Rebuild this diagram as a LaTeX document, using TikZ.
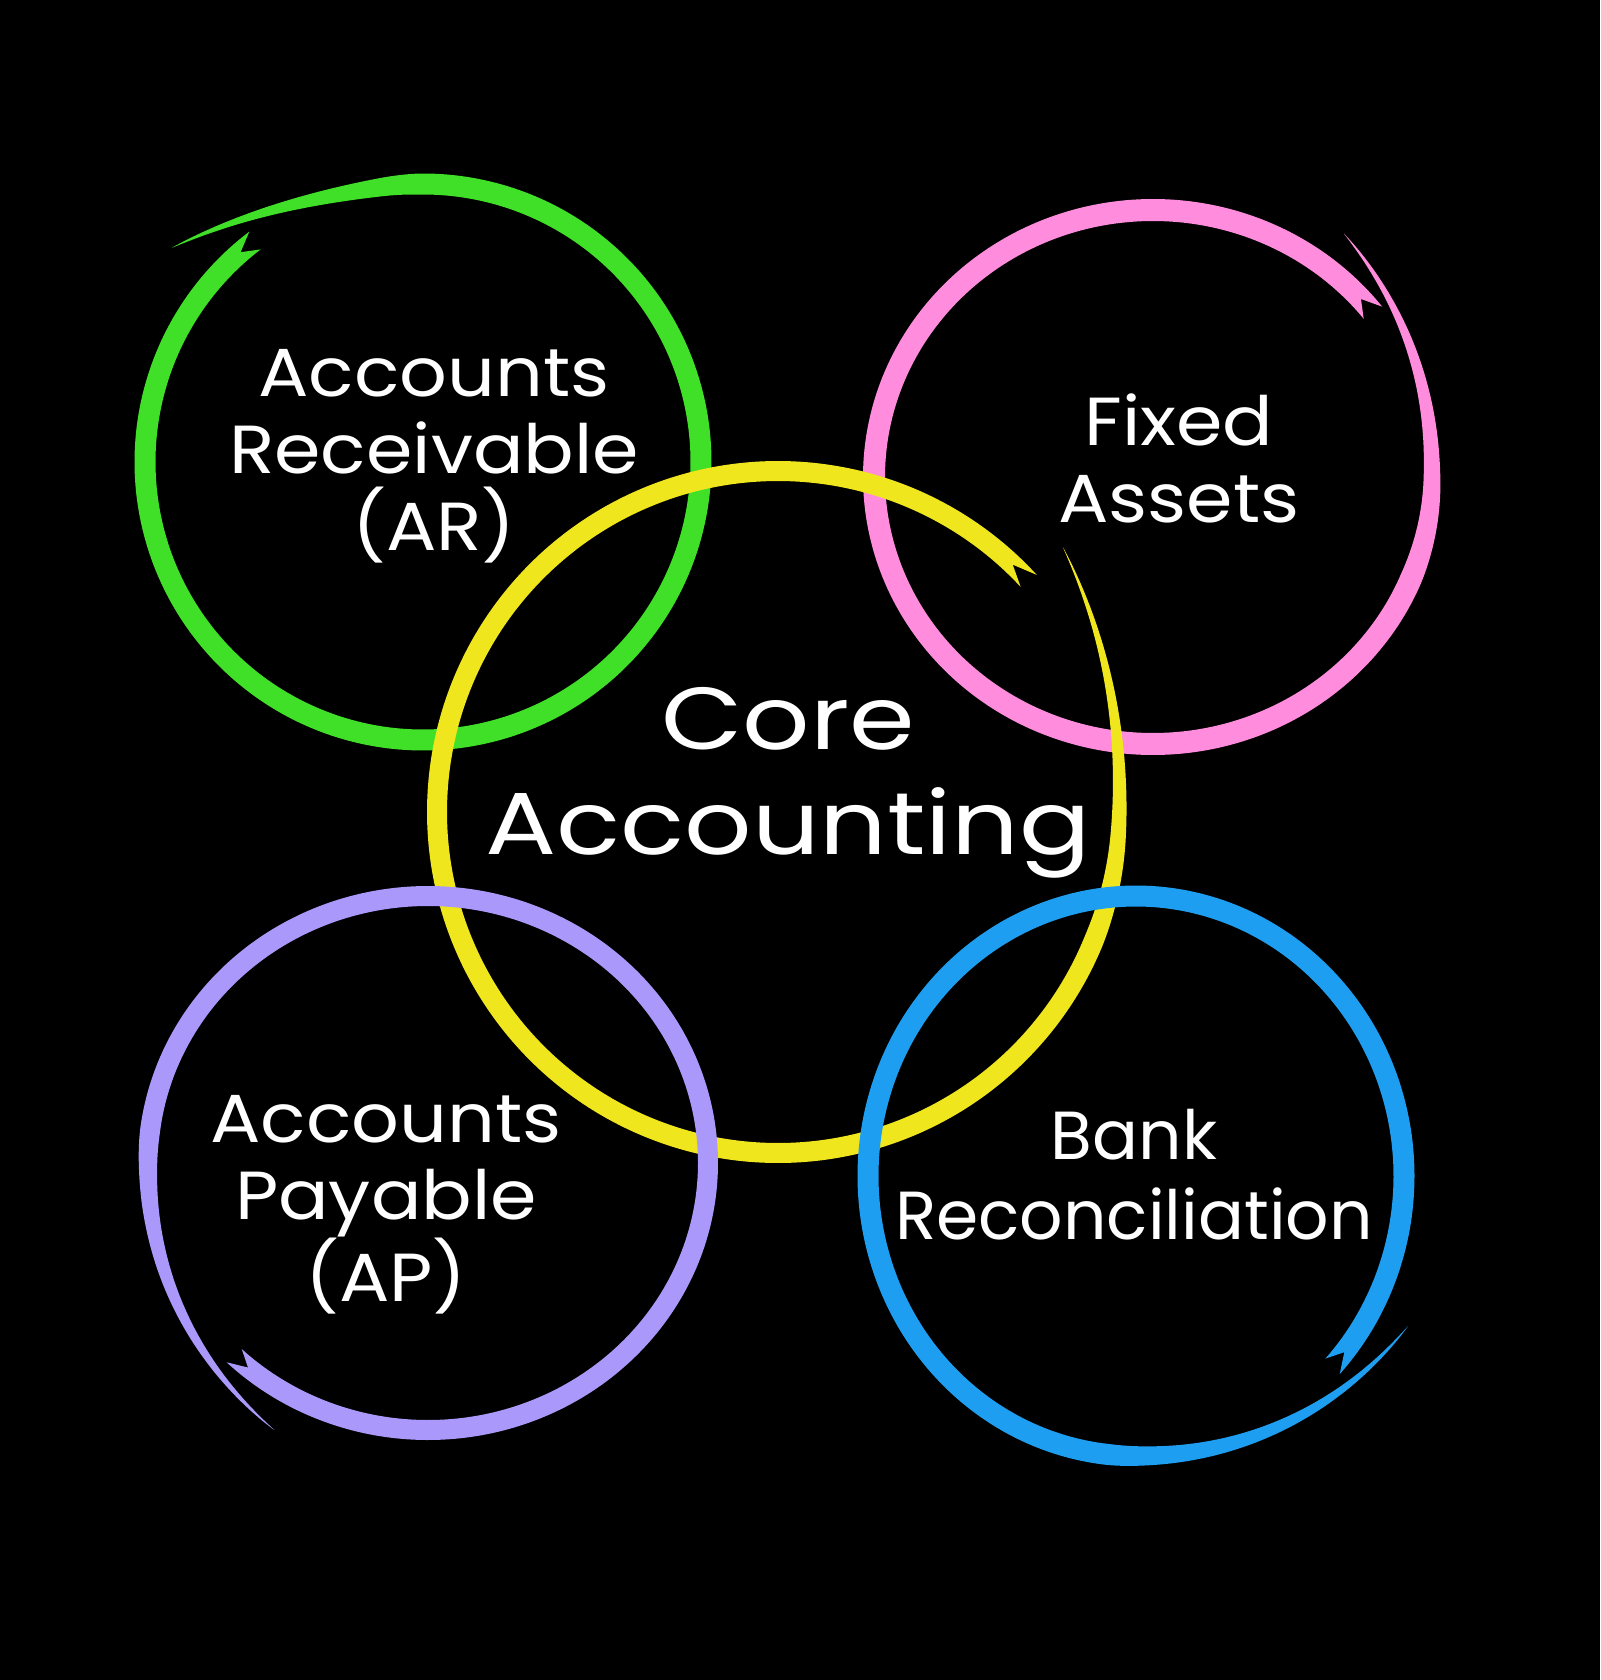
\documentclass[tikz,border=0pt]{standalone}
\usepackage{fontspec}
\setmainfont{Poppins}
\newfontfamily\lblfont{Poppins}[FakeStretch=1.1]
\newfontfamily\corefont{Poppins}[FakeStretch=1.2]
\definecolor{ringgreen}{RGB}{64,224,40}
\definecolor{ringyellow}{RGB}{240,230,30}
\definecolor{ringpink}{RGB}{255,140,220}
\definecolor{ringpurple}{RGB}{170,152,250}
\definecolor{ringblue}{RGB}{30,158,240}
% ring parameters: centre, radii, width, start angle, sweep, tail start, tail growth, power, taper start, notch
\newcommand{\setring}[9]{\def\rCx{#1}\def\rCy{#2}\def\rRx{#3}\def\rRy{#4}\def\rW{#5}\def\rT{#6}\def\rSw{#7}\def\rSa{#8}\def\rA{#9}}
\newcommand{\setringb}[3]{\def\rP{#1}\def\rSb{#2}\def\rNd{#3}}
\newcommand{\brushring}[1]{%
  \fill[#1] plot[domain=0:1,samples=200,variable=\u,smooth]
    ({\rCx+(\rRx+ext(\u)+wid(\u)/2)*cos(\rT+\rSw*\u)},{\rCy+(\rRy+ext(\u)+wid(\u)/2)*sin(\rT+\rSw*\u)})
    -- plot[domain=1:0,samples=200,variable=\u,smooth]
    ({\rCx+(\rRx+ext(\u)-wid(\u)/2)*cos(\rT+\rSw*\u)},{\rCy+(\rRy+ext(\u)-wid(\u)/2)*sin(\rT+\rSw*\u)})
    -- ({\rCx+\rRx*cos(\rT+\rNd)},{\rCy+\rRy*sin(\rT+\rNd)}) -- cycle;}
\begin{document}
\begin{tikzpicture}[x=1pt,y=-1pt,
  declare function={ext(\v)=\rA*pow(max((\v-\rSa)/(1-\rSa),0.001),\rP);
                    wid(\v)=\rW*pow(max(min(1,(1-\v)/(1-\rSb)),0.001),0.8);},
  lbl/.style={text=white, align=center, inner sep=0pt, font=\lblfont\fontsize{68}{77}\selectfont},
  banklbl/.style={text=white, align=center, inner sep=0pt, font=\fontsize{68}{80}\selectfont},
  corelbl/.style={text=white, align=center, inner sep=0pt, font=\corefont\fontsize{88}{105}\selectfont}]
\useasboundingbox (0,0) rectangle (1600,1680);
\fill[black] (0,0) rectangle (1600,1680);
% green ring (Accounts Receivable)
\setring{423}{462}{278}{278}{21}{233}{-372.5}{0.89}{52}\setringb{2}{0.87}{-4}
\brushring{ringgreen}
% pink ring (Fixed Assets)
\setring{1153}{477}{279}{267}{22}{-37.8}{-375.2}{0.859}{38}\setringb{1.8}{0.80}{-4}
\brushring{ringpink}
% yellow ring (Core Accounting)
\setring{778}{812}{341}{341}{20}{-42.5}{-360.4}{0.87}{48}\setringb{2}{0.82}{-4}
\brushring{ringyellow}
% purple ring (Accounts Payable)
\setring{428}{1163}{280}{267}{20}{134}{-375.1}{0.837}{38}\setringb{1.8}{0.82}{-4}
\brushring{ringpurple}
% blue ring (Bank Reconciliation)
\setring{1136}{1176}{268}{280}{21}{43}{-375}{0.835}{40}\setringb{1.8}{0.82}{-4}
\brushring{ringblue}
% labels
\node[lbl] (ar) at (434,456) {Accounts\\Receivable\\(AR)};
\node[lbl] (fa) at (1179,458) {Fixed\\Assets};
\node[corelbl] (core) at (788,783) {Core\\Accounting};
\node[lbl] (ap) at (386,1205) {Accounts\\Payable\\(AP)};
\node[banklbl] (bank) at (1134,1175) {Bank\\Reconciliation};
\end{tikzpicture}
\end{document}
